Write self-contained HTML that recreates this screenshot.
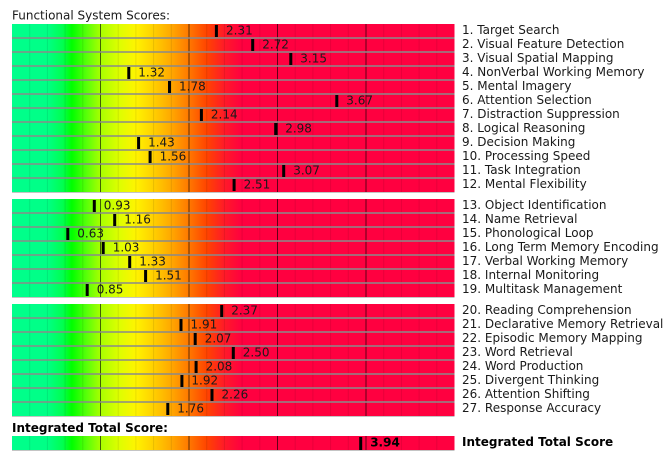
<!DOCTYPE html>
<html><head><meta charset="utf-8"><style>
html,body{margin:0;padding:0;background:#fff;}
svg{display:block;}
text{font-family:"DejaVu Sans","Liberation Sans",sans-serif;font-size:12px;fill:#1a1a1a;}
.b{font-weight:bold;fill:#000;}
</style></head><body>
<svg width="670" height="460" viewBox="0 0 670 460" xmlns="http://www.w3.org/2000/svg">
<defs>
<linearGradient id="g" gradientUnits="userSpaceOnUse" x1="12" y1="0" x2="454.5" y2="0">
<stop offset="0" stop-color="#00ff8c"/>
<stop offset="0.08" stop-color="#00ff86"/>
<stop offset="0.115" stop-color="#00ff50"/>
<stop offset="0.135" stop-color="#00ff00"/>
<stop offset="0.17" stop-color="#5cff08"/>
<stop offset="0.2" stop-color="#a8ff00"/>
<stop offset="0.24" stop-color="#dcff00"/>
<stop offset="0.28" stop-color="#fff400"/>
<stop offset="0.32" stop-color="#ffcf00"/>
<stop offset="0.36" stop-color="#ffa800"/>
<stop offset="0.40" stop-color="#ff7800"/>
<stop offset="0.44" stop-color="#ff4400"/>
<stop offset="0.48" stop-color="#ff1a28"/>
<stop offset="0.52" stop-color="#ff0040"/>
<stop offset="1" stop-color="#ff0040"/>
</linearGradient>
</defs>

<text x="12" y="19.5">Functional System Scores:</text>

<rect x="12" y="24" width="442.5" height="426" fill="url(#g)"/>

<g stroke="rgba(0,0,0,0.09)" stroke-width="1">
<line x1="29.7" y1="24" x2="29.7" y2="450"/><line x1="47.4" y1="24" x2="47.4" y2="450"/>
<line x1="65.1" y1="24" x2="65.1" y2="450"/><line x1="82.8" y1="24" x2="82.8" y2="450"/>
<line x1="118.2" y1="24" x2="118.2" y2="450"/><line x1="135.9" y1="24" x2="135.9" y2="450"/>
<line x1="153.6" y1="24" x2="153.6" y2="450"/><line x1="171.3" y1="24" x2="171.3" y2="450"/>
<line x1="206.7" y1="24" x2="206.7" y2="450"/><line x1="224.4" y1="24" x2="224.4" y2="450"/>
<line x1="242.1" y1="24" x2="242.1" y2="450"/><line x1="259.8" y1="24" x2="259.8" y2="450"/>
<line x1="295.2" y1="24" x2="295.2" y2="450"/><line x1="312.9" y1="24" x2="312.9" y2="450"/>
<line x1="330.6" y1="24" x2="330.6" y2="450"/><line x1="348.3" y1="24" x2="348.3" y2="450"/>
<line x1="383.7" y1="24" x2="383.7" y2="450"/><line x1="401.4" y1="24" x2="401.4" y2="450"/>
<line x1="419.1" y1="24" x2="419.1" y2="450"/><line x1="436.8" y1="24" x2="436.8" y2="450"/>
</g>
<g stroke="rgba(0,0,0,0.62)" stroke-width="1">
<line x1="100.5" y1="24" x2="100.5" y2="450"/><line x1="189" y1="24" x2="189" y2="450"/>
<line x1="277.5" y1="24" x2="277.5" y2="450"/><line x1="366" y1="24" x2="366" y2="450"/>
</g>

<rect x="0" y="192.5" width="460" height="6.5" fill="#fff"/>
<rect x="0" y="297.5" width="460" height="6.5" fill="#fff"/>
<rect x="0" y="416.5" width="460" height="19.5" fill="#fff"/>

<g stroke="#8a8a8a" stroke-width="1.6">
<line x1="12" y1="38" x2="454.5" y2="38"/><line x1="12" y1="52" x2="454.5" y2="52"/>
<line x1="12" y1="66" x2="454.5" y2="66"/><line x1="12" y1="80" x2="454.5" y2="80"/>
<line x1="12" y1="94" x2="454.5" y2="94"/><line x1="12" y1="108" x2="454.5" y2="108"/>
<line x1="12" y1="122" x2="454.5" y2="122"/><line x1="12" y1="136" x2="454.5" y2="136"/>
<line x1="12" y1="150" x2="454.5" y2="150"/><line x1="12" y1="164" x2="454.5" y2="164"/>
<line x1="12" y1="178" x2="454.5" y2="178"/>
<line x1="12" y1="213" x2="454.5" y2="213"/><line x1="12" y1="227" x2="454.5" y2="227"/>
<line x1="12" y1="241" x2="454.5" y2="241"/><line x1="12" y1="255" x2="454.5" y2="255"/>
<line x1="12" y1="269" x2="454.5" y2="269"/><line x1="12" y1="283" x2="454.5" y2="283"/>
<line x1="12" y1="318" x2="454.5" y2="318"/><line x1="12" y1="332" x2="454.5" y2="332"/>
<line x1="12" y1="346" x2="454.5" y2="346"/><line x1="12" y1="360" x2="454.5" y2="360"/>
<line x1="12" y1="374" x2="454.5" y2="374"/><line x1="12" y1="388" x2="454.5" y2="388"/>
<line x1="12" y1="402" x2="454.5" y2="402"/>
</g>
<g stroke="#c4c4c4" stroke-width="1">
<line x1="12" y1="192.5" x2="454.5" y2="192.5"/>
<line x1="12" y1="297.5" x2="454.5" y2="297.5"/>
<line x1="12" y1="416.5" x2="454.5" y2="416.5"/>
<line x1="12" y1="450.5" x2="454.5" y2="450.5"/>
</g>

<g fill="#000">
<rect x="214.9" y="25" width="3" height="12"/>
<rect x="251.2" y="39" width="3" height="12"/>
<rect x="289.3" y="53" width="3" height="12"/>
<rect x="127.3" y="67" width="3" height="12"/>
<rect x="168" y="81" width="3" height="12"/>
<rect x="335.3" y="95" width="3" height="12"/>
<rect x="199.9" y="109" width="3" height="12"/>
<rect x="274.2" y="123" width="3" height="12"/>
<rect x="137.1" y="137" width="3" height="12"/>
<rect x="148.6" y="151" width="3" height="12"/>
<rect x="282.2" y="165" width="3" height="12"/>
<rect x="232.6" y="179" width="3" height="12"/>

<rect x="92.8" y="200" width="3" height="12"/>
<rect x="113.2" y="214" width="3" height="12"/>
<rect x="66.3" y="228" width="3" height="12"/>
<rect x="101.7" y="242" width="3" height="12"/>
<rect x="128.2" y="256" width="3" height="12"/>
<rect x="144.1" y="270" width="3" height="12"/>
<rect x="85.7" y="284" width="3" height="12"/>

<rect x="220.2" y="305" width="3" height="12"/>
<rect x="179.5" y="319" width="3" height="12"/>
<rect x="193.7" y="333" width="3" height="12"/>
<rect x="231.8" y="347" width="3" height="12"/>
<rect x="194.6" y="361" width="3" height="12"/>
<rect x="180.4" y="375" width="3" height="12"/>
<rect x="210.5" y="389" width="3" height="12"/>
<rect x="166.3" y="403" width="3" height="12"/>

<rect x="359.2" y="437" width="3" height="13"/>
</g>

<g dominant-baseline="central">
<text x="226" y="30.5">2.31</text>
<text x="262.2" y="44.5">2.72</text>
<text x="300.3" y="58.5">3.15</text>
<text x="138.3" y="72.5">1.32</text>
<text x="179" y="86.5">1.78</text>
<text x="346.3" y="100.5">3.67</text>
<text x="210.9" y="114.5">2.14</text>
<text x="285.2" y="128.5">2.98</text>
<text x="148.1" y="142.5">1.43</text>
<text x="159.6" y="156.5">1.56</text>
<text x="293.2" y="170.5">3.07</text>
<text x="243.6" y="184.5">2.51</text>

<text x="103.8" y="205.5">0.93</text>
<text x="124.2" y="219.5">1.16</text>
<text x="77.3" y="233.5">0.63</text>
<text x="112.7" y="247.5">1.03</text>
<text x="139.2" y="261.5">1.33</text>
<text x="155.1" y="275.5">1.51</text>
<text x="96.7" y="289.5">0.85</text>

<text x="231.2" y="310.5">2.37</text>
<text x="190.5" y="324.5">1.91</text>
<text x="204.7" y="338.5">2.07</text>
<text x="242.8" y="352.5">2.50</text>
<text x="205.6" y="366.5">2.08</text>
<text x="191.4" y="380.5">1.92</text>
<text x="221.5" y="394.5">2.26</text>
<text x="177.3" y="408.5">1.76</text>

<text class="b" x="370.2" y="442.5">3.94</text>

<text x="462" y="30">1. Target Search</text>
<text x="462" y="44">2. Visual Feature Detection</text>
<text x="462" y="58">3. Visual Spatial Mapping</text>
<text x="462" y="72">4. NonVerbal Working Memory</text>
<text x="462" y="86">5. Mental Imagery</text>
<text x="462" y="100">6. Attention Selection</text>
<text x="462" y="114">7. Distraction Suppression</text>
<text x="462" y="128">8. Logical Reasoning</text>
<text x="462" y="142">9. Decision Making</text>
<text x="462" y="156">10. Processing Speed</text>
<text x="462" y="170">11. Task Integration</text>
<text x="462" y="184">12. Mental Flexibility</text>

<text x="462" y="205">13. Object Identification</text>
<text x="462" y="219">14. Name Retrieval</text>
<text x="462" y="233">15. Phonological Loop</text>
<text x="462" y="247">16. Long Term Memory Encoding</text>
<text x="462" y="261">17. Verbal Working Memory</text>
<text x="462" y="275">18. Internal Monitoring</text>
<text x="462" y="289">19. Multitask Management</text>

<text x="462" y="310">20. Reading Comprehension</text>
<text x="462" y="324">21. Declarative Memory Retrieval</text>
<text x="462" y="338">22. Episodic Memory Mapping</text>
<text x="462" y="352">23. Word Retrieval</text>
<text x="462" y="366">24. Word Production</text>
<text x="462" y="380">25. Divergent Thinking</text>
<text x="462" y="394">26. Attention Shifting</text>
<text x="462" y="408">27. Response Accuracy</text>

<text class="b" x="12" y="428">Integrated Total Score:</text>
<text class="b" x="462" y="442">Integrated Total Score</text>
</g>
</svg>
</body></html>
